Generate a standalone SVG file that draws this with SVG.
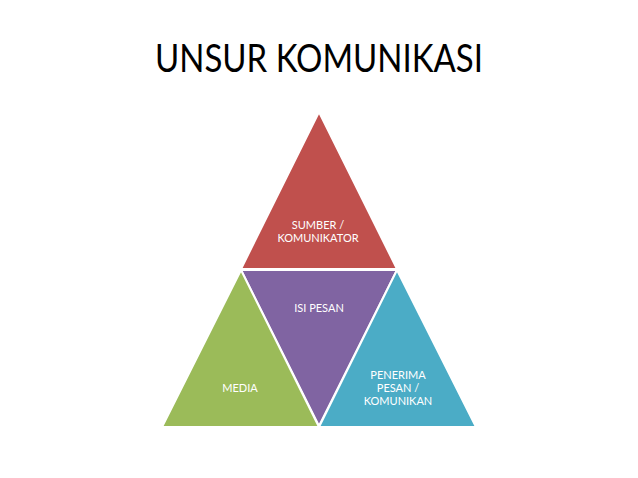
<svg xmlns="http://www.w3.org/2000/svg" width="638" height="478" viewBox="0 0 638 478">
<style>
.tri{stroke:#fff;stroke-width:2;stroke-linejoin:miter}
.lbl{font-family:Lato,"Open Sans","Liberation Sans",sans-serif;font-size:11px;fill:#fff;text-anchor:middle}
.title{font-family:Lato,"Open Sans","Liberation Sans",sans-serif;font-size:38px;fill:#000;text-anchor:middle}
</style>
<rect width="638" height="478" fill="#fff"/>
<text class="title" x="319" y="72" textLength="328" lengthAdjust="spacingAndGlyphs">UNSUR KOMUNIKASI</text>
<g id="sumber">
<polygon class="tri" fill="#C0504D" points="319,112 397,269 241,269"/>
<text class="lbl" x="318" y="229">SUMBER /</text>
<text class="lbl" x="318" y="242">KOMUNIKATOR</text>
</g>
<g id="isi-pesan">
<polygon class="tri" fill="#8064A2" points="241,270 397,270 319,426"/>
<text class="lbl" x="319" y="312">ISI PESAN</text>
</g>
<g id="media">
<polygon class="tri" fill="#9BBB59" points="241,270 319,427 162,427"/>
<text class="lbl" x="240" y="392">MEDIA</text>
</g>
<g id="penerima">
<polygon class="tri" fill="#4BACC6" points="397,270 476,427 319,427"/>
<text class="lbl" x="398" y="379">PENERIMA</text>
<text class="lbl" x="398" y="392">PESAN /</text>
<text class="lbl" x="398" y="405">KOMUNIKAN</text>
</g>
<g id="connectors"/>
</svg>
